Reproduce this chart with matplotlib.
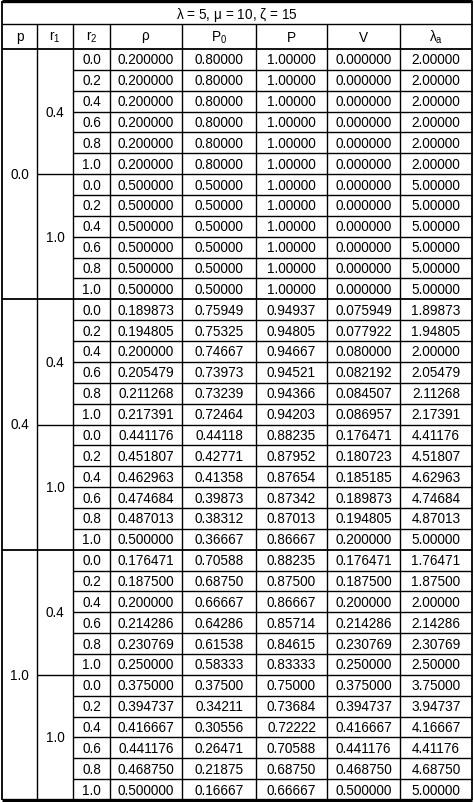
import matplotlib.pyplot as plt

TITLE = r"$\lambda$ = 5, $\mu$ = 10, $\zeta$ = 15"
HEADERS = ["p", r"r$_1$", r"r$_2$", r"$\rho$", r"P$_0$", "P", "V", r"$\lambda_\mathrm{a}$"]
P_VALUES = ["0.0", "0.4", "1.0"]
R1_VALUES = ["0.4", "1.0"]
R2_VALUES = ["0.0", "0.2", "0.4", "0.6", "0.8", "1.0"]

RHO = ["0.200000"] * 6 + ["0.500000"] * 6 + [
    "0.189873", "0.194805", "0.200000", "0.205479", "0.211268", "0.217391",
    "0.441176", "0.451807", "0.462963", "0.474684", "0.487013", "0.500000",
    "0.176471", "0.187500", "0.200000", "0.214286", "0.230769", "0.250000",
    "0.375000", "0.394737", "0.416667", "0.441176", "0.468750", "0.500000"]
P0 = ["0.80000"] * 6 + ["0.50000"] * 6 + [
    "0.75949", "0.75325", "0.74667", "0.73973", "0.73239", "0.72464",
    "0.44118", "0.42771", "0.41358", "0.39873", "0.38312", "0.36667",
    "0.70588", "0.68750", "0.66667", "0.64286", "0.61538", "0.58333",
    "0.37500", "0.34211", "0.30556", "0.26471", "0.21875", "0.16667"]
P = ["1.00000"] * 12 + [
    "0.94937", "0.94805", "0.94667", "0.94521", "0.94366", "0.94203",
    "0.88235", "0.87952", "0.87654", "0.87342", "0.87013", "0.86667",
    "0.88235", "0.87500", "0.86667", "0.85714", "0.84615", "0.83333",
    "0.75000", "0.73684", "0.72222", "0.70588", "0.68750", "0.66667"]
V = ["0.000000"] * 12 + [
    "0.075949", "0.077922", "0.080000", "0.082192", "0.084507", "0.086957",
    "0.176471", "0.180723", "0.185185", "0.189873", "0.194805", "0.200000",
    "0.176471", "0.187500", "0.200000", "0.214286", "0.230769", "0.250000",
    "0.375000", "0.394737", "0.416667", "0.441176", "0.468750", "0.500000"]
LAMBDA_A = ["2.00000"] * 6 + ["5.00000"] * 6 + [
    "1.89873", "1.94805", "2.00000", "2.05479", "2.11268", "2.17391",
    "4.41176", "4.51807", "4.62963", "4.74684", "4.87013", "5.00000",
    "1.76471", "1.87500", "2.00000", "2.14286", "2.30769", "2.50000",
    "3.75000", "3.94737", "4.16667", "4.41176", "4.68750", "5.00000"]

COL_EDGES = [2, 37, 73, 110, 182, 256, 327, 400, 472]
Y_TOP, Y_TITLE, Y_HEAD, Y_BOT = 2, 25, 50, 801
FS = 9.8

plt.rcParams["font.family"] = ["Liberation Sans", "DejaVu Sans"]
plt.rcParams["mathtext.fontset"] = "custom"
plt.rcParams["mathtext.rm"] = "Liberation Sans"
plt.rcParams["mathtext.it"] = "Liberation Sans"

fig = plt.figure(figsize=(4.74, 8.03), dpi=100)
ax = fig.add_axes([0, 0, 1, 1])
ax.set_xlim(0, 474)
ax.set_ylim(803, 0)
ax.axis("off")

n = len(RHO)
rh = (Y_BOT - Y_HEAD) / n
row_y = lambda i: Y_HEAD + i * rh
L, R = COL_EDGES[0], COL_EDGES[-1]


def hline(y, x0=L, x1=R, lw=1.0):
    ax.plot([x0, x1], [y, y], color="black", lw=lw, solid_capstyle="butt")


def vline(x, y0, y1, lw=1.0):
    ax.plot([x, x], [y0, y1], color="black", lw=lw, solid_capstyle="butt")


# frame
hline(Y_TOP, lw=2.4)
hline(Y_BOT, lw=2.4)
hline(Y_TITLE)
hline(Y_HEAD, lw=1.3)
vline(L, Y_TOP, Y_BOT, lw=1.3)
vline(R, Y_TOP, Y_BOT, lw=1.3)
for x in COL_EDGES[1:-1]:
    vline(x, Y_TITLE, Y_BOT)

for i in range(1, n):
    if i % 12 == 0:
        hline(row_y(i), lw=1.3)
    elif i % 6 == 0:
        hline(row_y(i), x0=COL_EDGES[1])
    else:
        hline(row_y(i), x0=COL_EDGES[2])

ax.text((L + R) / 2, (Y_TOP + Y_TITLE) / 2 + 1, TITLE, ha="center", va="center", fontsize=FS)
for j, h in enumerate(HEADERS):
    ax.text((COL_EDGES[j] + COL_EDGES[j + 1]) / 2, (Y_TITLE + Y_HEAD) / 2,
            h, ha="center", va="center", fontsize=FS)

for k, pv in enumerate(P_VALUES):
    ax.text((COL_EDGES[0] + COL_EDGES[1]) / 2, row_y(12 * k + 6), pv,
            ha="center", va="center", fontsize=FS)
    for m, r1 in enumerate(R1_VALUES):
        ax.text((COL_EDGES[1] + COL_EDGES[2]) / 2, row_y(12 * k + 6 * m + 3), r1,
                ha="center", va="center", fontsize=FS)

cols = [RHO, P0, P, V, LAMBDA_A]
for i in range(n):
    yc = row_y(i) + rh / 2
    ax.text((COL_EDGES[2] + COL_EDGES[3]) / 2, yc, R2_VALUES[i % 6],
            ha="center", va="center", fontsize=FS)
    for j, col in enumerate(cols):
        ax.text((COL_EDGES[3 + j] + COL_EDGES[4 + j]) / 2, yc, col[i],
                ha="center", va="center", fontsize=FS)

fig.savefig("out.png", dpi=100)
